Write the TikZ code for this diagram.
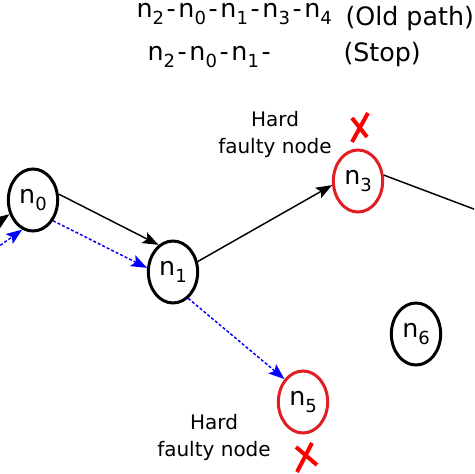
\documentclass[tikz,border=0pt]{standalone}
\usepackage{fontspec}
\setmainfont{DejaVu Sans}
\usetikzlibrary{shapes.geometric,arrows.meta}

\newcommand{\nd}[1]{n\raisebox{-0.25em}{\fontsize{13.5}{14}\selectfont #1}}
\newcommand{\hy}{\kern2pt-\kern2pt}

\definecolor{faultred}{RGB}{225,30,35}

\tikzset{every picture/.style={line width=0.75pt}}
\tikzset{
  netnode/.style={draw=black, ellipse, line width=2.25pt, minimum width=37pt, minimum height=46.5pt, inner sep=0pt, font=\fontsize{19}{20}\selectfont},
  faultnode/.style={netnode, draw=faultred},
  oldlink/.style={line width=1.1pt, -{Stealth[length=12pt,width=9pt,inset=2.5pt]}},
  newlink/.style={line width=1.1pt, blue, dash pattern=on 2.25pt off 1.5pt, -{Stealth[length=12pt,width=9pt,inset=2.5pt]}},
  crossmark/.style={draw=red, line width=3pt},
  pathtext/.style={anchor=base west, inner sep=0pt, font=\fontsize{19}{20}\selectfont},
  faulttext/.style={anchor=north, align=center, inner sep=0.75pt, font=\fontsize{15}{20}\selectfont}
}

\begin{document}
\begin{tikzpicture}[x=0.75pt,y=0.75pt,yscale=-1,xscale=1]
\useasboundingbox (0,0) rectangle (474,474);
\clip (0,0) rectangle (474,474);

%Shape: Ellipse
\node [netnode] (n0) at (33,200) {\nd{0}};
\node [netnode] (n1) at (173,272) {\nd{1}};
\node [faultnode] (n3) at (358,181) {\nd{3}};
\node [faultnode] (n5) at (303,402) {\nd{5}};
\node [netnode] (n6) at (416,334) {\nd{6}};

% off-picture ends
\coordinate (from2k) at (-20,235);
\coordinate (from2b) at (-20,260);
\coordinate (to4) at (495,217);

%Straight Lines
\draw [oldlink] (from2k) -- (n0.211);
\draw [oldlink] (n0.13) -- (n1.118);
\draw [oldlink] (n1.23) -- (n3.189);
\draw [line width=1.1pt] (n3.13) -- (to4);
%Dotted Lines
\draw [newlink] (from2b) -- (n0.250);
\draw [newlink] (n0.314) -- (n1.171);
\draw [newlink] (n1.300) -- (n5.129);

%Cross marks
\draw [crossmark] (352,118) -- (367,137) (368,113) -- (352,142);
\draw [crossmark] (296,447) -- (317,465) (312,443) -- (297,472);

% Text Node
\node [pathtext] (oldseq) at (136,18) {\nd{2}\hy\nd{0}\hy\nd{1}\hy\nd{3}\hy\nd{4}};
\node [pathtext] (oldlabel) at (345,26) {(Old path)};
\node [pathtext] (newseq) at (147,61) {\nd{2}\hy\nd{0}\hy\nd{1}\hy};
\node [pathtext] (stoplabel) at (343,62) {(Stop)};
\node [faulttext] (fault3) at (275,110) {Hard\\faulty node};
\node [faulttext] (fault5) at (214,413) {Hard\\faulty node};

\end{tikzpicture}
\end{document}
